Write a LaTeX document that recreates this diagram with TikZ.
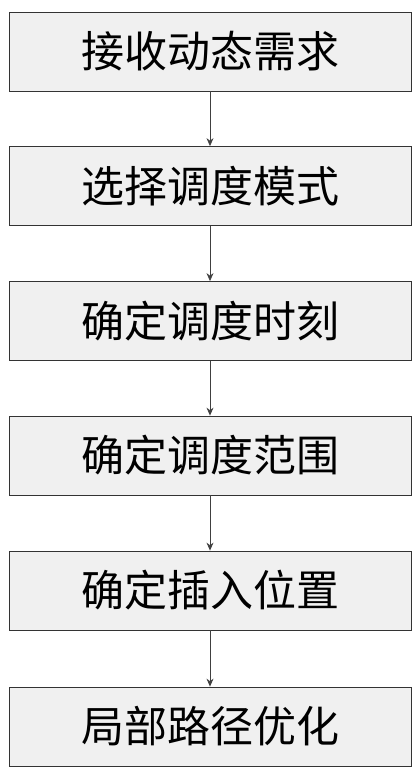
\documentclass[tikz,border=0pt]{standalone}
\usepackage{fontspec}
\newfontfamily\cjk{Noto Sans CJK SC}
\usetikzlibrary{arrows.meta}

\begin{document}
\begin{tikzpicture}[%
        x = 1pt,
        y = -1pt,
        line width = 0.8pt,
        > = {Stealth[length = 8pt, width = 7pt]},
        stepbox/.style = {
            draw = black!80,
            fill = black!6,
            minimum width = 402pt,
            minimum height = 79pt,
            inner sep = 0pt,
            font = \cjk\fontsize{43pt}{46pt}\selectfont
        },
        flow/.style = {
            draw = black!75,
            ->
        }
    ]

        % Fix the page to the size of the reference.
        \useasboundingbox (0, 0) rectangle (418, 774);

        % Boxes for the six steps.
        \node[stepbox] at (210, 51.5) (recv) {接收动态需求};
        \node[stepbox] at (210, 186.0) (mode) {选择调度模式};
        \node[stepbox] at (210, 321.0) (time) {确定调度时刻};
        \node[stepbox] at (210, 455.5) (range) {确定调度范围};
        \node[stepbox] at (210, 590.5) (insert) {确定插入位置};
        \node[stepbox] at (210, 726.5) (opt) {局部路径优化};

        % Arrows from one step to the next.
        \draw[flow] (recv) -- (mode);
        \draw[flow] (mode) -- (time);
        \draw[flow] (time) -- (range);
        \draw[flow] (range) -- (insert);
        \draw[flow] (insert) -- (opt);
    \end{tikzpicture}
\end{document}
